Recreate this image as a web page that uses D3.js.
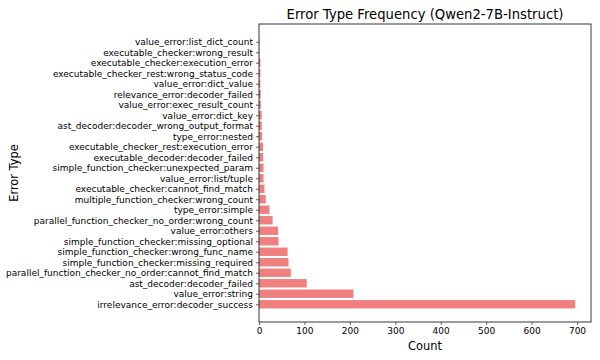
<!DOCTYPE html>
<html>
<head>
<meta charset="utf-8">
<script src="https://cdn.jsdelivr.net/npm/d3@7"></script>
<style>
  body { margin: 0; background: #fff; }
  svg { display: block; }
  text { font-family: "DejaVu Sans", sans-serif; fill: #000; }
</style>
</head>
<body>
<svg id="chart" width="600" height="360"></svg>
<script>
// Categories listed from bottom (index 0) to top
const categories = [
  "irrelevance_error:decoder_success",
  "value_error:string",
  "ast_decoder:decoder_failed",
  "parallel_function_checker_no_order:cannot_find_match",
  "simple_function_checker:missing_required",
  "simple_function_checker:wrong_func_name",
  "simple_function_checker:missing_optional",
  "value_error:others",
  "parallel_function_checker_no_order:wrong_count",
  "type_error:simple",
  "multiple_function_checker:wrong_count",
  "executable_checker:cannot_find_match",
  "value_error:list/tuple",
  "simple_function_checker:unexpected_param",
  "executable_decoder:decoder_failed",
  "executable_checker_rest:execution_error",
  "type_error:nested",
  "ast_decoder:decoder_wrong_output_format",
  "value_error:dict_key",
  "value_error:exec_result_count",
  "relevance_error:decoder_failed",
  "value_error:dict_value",
  "executable_checker_rest:wrong_status_code",
  "executable_checker:execution_error",
  "executable_checker:wrong_result",
  "value_error:list_dict_count"
];
const counts = [696, 208, 105, 70, 65, 63, 43, 42, 30, 23, 15, 12, 10, 10, 9, 9, 7, 6, 6, 4, 4, 3, 3, 3, 1, 1];
const xTicks = [0, 100, 200, 300, 400, 500, 600, 700];
const title = "Error Type Frequency (Qwen2-7B-Instruct)";
const xLabel = "Count";
const yLabel = "Error Type";

const W = 600, H = 360;
const m = { left: 259, right: 9, top: 24, bottom: 38 };
const svg = d3.select("#chart");

const n = categories.length;
const barH = 0.8;
const pad = 0.05 * (n - 1 + barH);
const x = d3.scaleLinear().domain([0, d3.max(counts) * 1.05]).range([m.left, W - m.right]);
const y = d3.scaleLinear().domain([-barH / 2 - pad, n - 1 + barH / 2 + pad]).range([H - m.bottom, m.top]);

const data = categories.map((c, i) => ({ c, i, v: counts[i] }));

svg.append("g").selectAll("rect").data(data).join("rect")
  .attr("x", x(0))
  .attr("y", d => y(d.i + barH / 2))
  .attr("width", d => x(d.v) - x(0))
  .attr("height", d => y(d.i - barH / 2) - y(d.i + barH / 2))
  .attr("fill", "#f08080");

// frame
svg.append("rect")
  .attr("x", m.left).attr("y", m.top)
  .attr("width", W - m.right - m.left).attr("height", H - m.bottom - m.top)
  .attr("fill", "none").attr("stroke", "#222").attr("stroke-width", 0.9);

const xAxis = d3.axisBottom(x).tickValues(xTicks).tickSize(3).tickPadding(3);
const gx = svg.append("g").attr("transform", `translate(0,${H - m.bottom})`).call(xAxis);
gx.select(".domain").remove();
gx.selectAll("text").style("font-size", "9px").style("font-family", "DejaVu Sans");

const yAxis = d3.axisLeft(y).tickValues(d3.range(n)).tickFormat(i => categories[i]).tickSize(3).tickPadding(3);
const gy = svg.append("g").attr("transform", `translate(${m.left},0)`).call(yAxis);
gy.select(".domain").remove();
gy.selectAll("text").style("font-size", "9px").style("font-family", "DejaVu Sans");
svg.selectAll(".tick line").attr("stroke", "#222").attr("stroke-width", 0.7);

svg.append("text")
  .attr("x", (m.left + W - m.right) / 2).attr("y", 18.5)
  .attr("text-anchor", "middle").style("font-size", "13.2px")
  .text(title);

svg.append("text")
  .attr("x", (m.left + W - m.right) / 2).attr("y", 350)
  .attr("text-anchor", "middle").style("font-size", "11.4px")
  .text(xLabel);

svg.append("text")
  .attr("transform", `translate(18,${(m.top + H - m.bottom) / 2}) rotate(-90)`)
  .attr("text-anchor", "middle").style("font-size", "11.4px")
  .text(yLabel);
</script>
</body>
</html>
